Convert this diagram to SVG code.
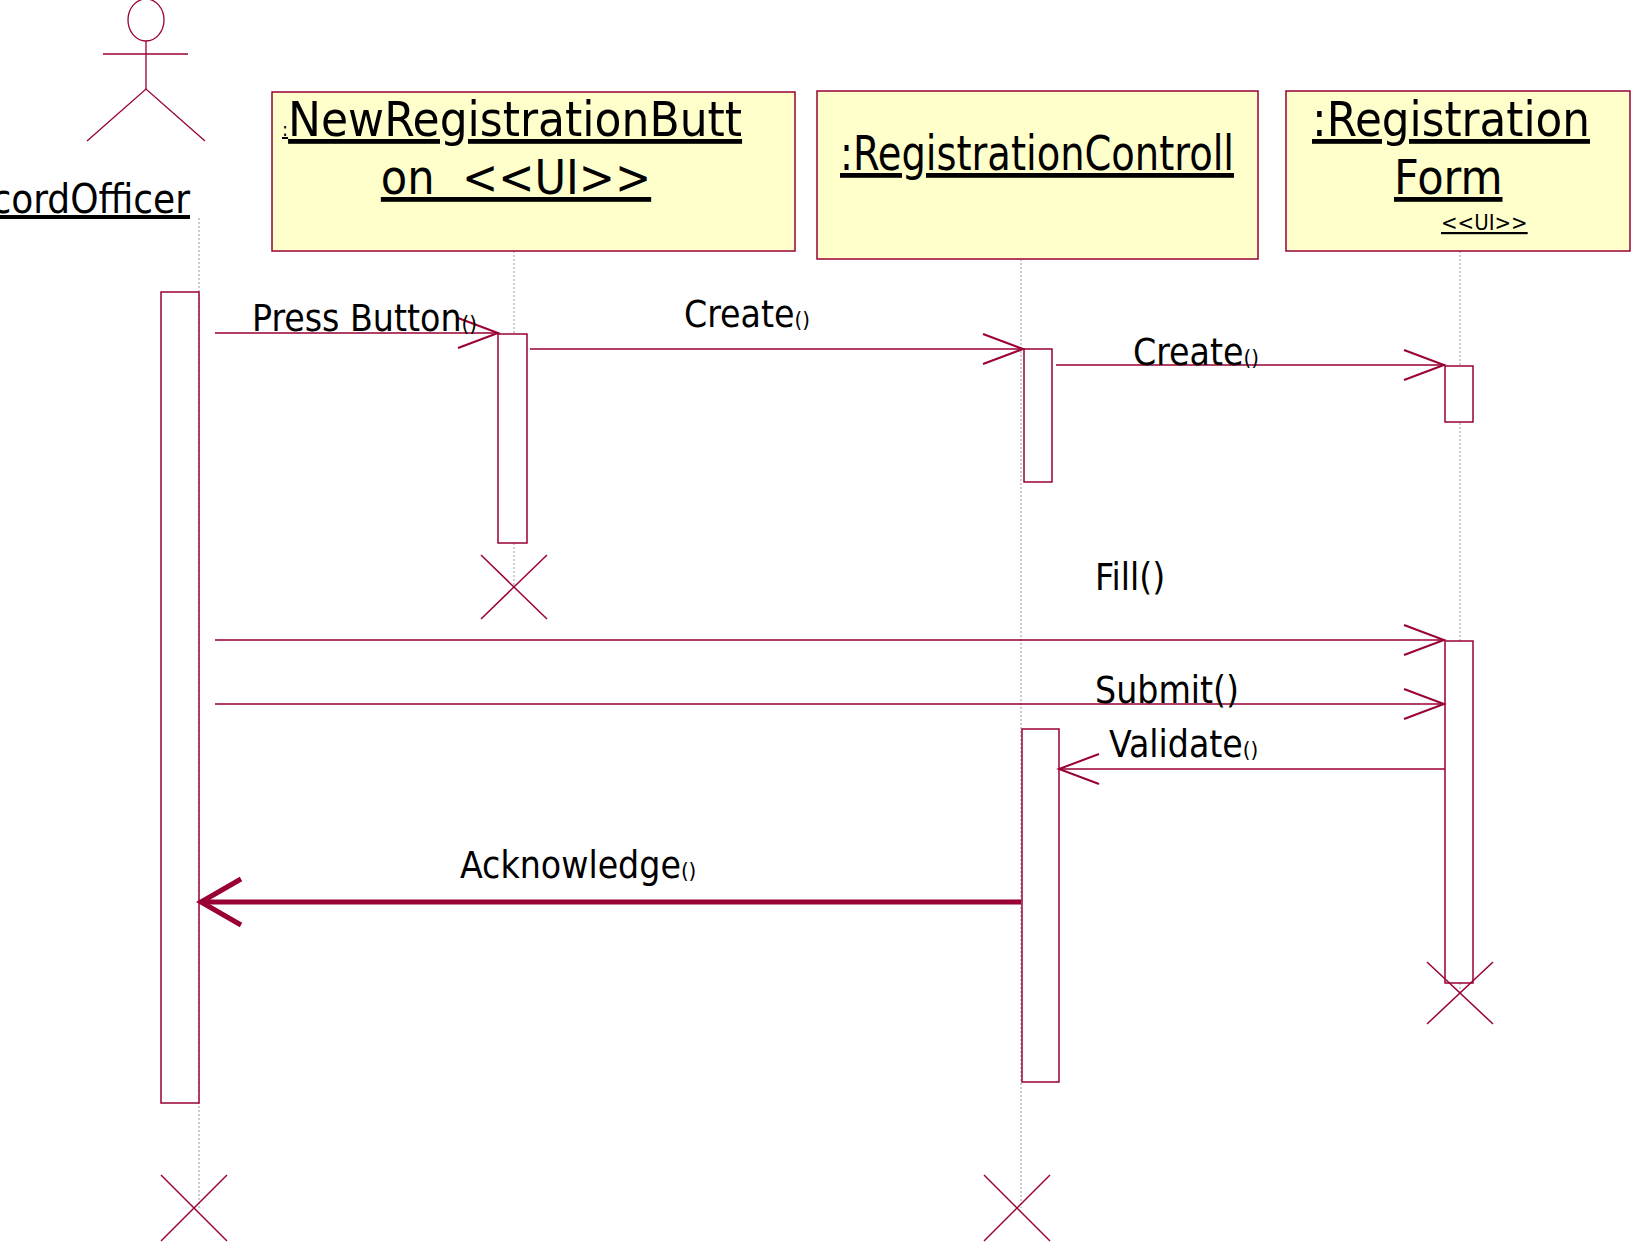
<svg xmlns="http://www.w3.org/2000/svg" width="1644" height="1259" viewBox="0 0 1644 1259">
<style>
text{font-family:"DejaVu Sans Condensed","Liberation Sans Narrow","Liberation Sans",sans-serif;fill:#000}
.box{fill:#ffffcc;stroke:#990033;stroke-width:1.5}
.act{fill:#fff;stroke:#990033;stroke-width:1.5}
.life{stroke:#999;stroke-width:1;stroke-dasharray:2 2}
.ln{stroke:#990033;stroke-width:1.3;fill:none}
.ah{stroke:#990033;stroke-width:2;fill:none}
.x{stroke:#990033;stroke-width:1.5}
.t{font-size:48px;text-decoration:underline}
.m{font-size:37px}
.s{font-size:22px}
</style>
<g id="lifelines">
<line class="life" x1="199" y1="218" x2="199" y2="1208"/>
<line class="life" x1="514" y1="251" x2="514" y2="587"/>
<line class="life" x1="1021" y1="259" x2="1021" y2="1208"/>
<line class="life" x1="1460" y1="251" x2="1460" y2="994"/>
</g>
<g id="actor">
<ellipse cx="146" cy="20" rx="18" ry="21" fill="none" stroke="#990033" stroke-width="1.3"/>
<line class="ln" x1="103" y1="54" x2="188" y2="54"/>
<line class="ln" x1="146" y1="41" x2="146" y2="89"/>
<polyline class="ln" points="87,141 146,89 205,141"/>
<text x="190" y="213" font-size="40" text-anchor="end" text-decoration="underline">cordOfficer</text>
<rect class="act" x="161" y="292" width="38" height="811"/>
<line class="x" x1="161" y1="1175" x2="227" y2="1241"/><line class="x" x1="227" y1="1175" x2="161" y2="1241"/>
</g>
<g id="newRegistrationButton">
<rect class="box" x="272" y="92" width="523" height="159"/>
<text x="282" y="136" class="t"><tspan font-size="20">:</tspan><tspan textLength="454" lengthAdjust="spacingAndGlyphs">NewRegistrationButt</tspan></text>
<text x="516" y="194" class="t" text-anchor="middle" xml:space="preserve">on  &lt;&lt;UI&gt;&gt;</text>
<rect class="act" x="498" y="334" width="29" height="209"/>
<line class="x" x1="481" y1="555" x2="547" y2="619"/><line class="x" x1="547" y1="555" x2="481" y2="619"/>
</g>
<g id="registrationController">
<rect class="box" x="817" y="91" width="441" height="168"/>
<text x="840" y="170" class="t" font-size="44" textLength="394" lengthAdjust="spacingAndGlyphs">:RegistrationControll</text>
<rect class="act" x="1024" y="349" width="28" height="133"/>
<rect class="act" x="1022" y="729" width="37" height="353"/>
<line class="x" x1="984" y1="1175" x2="1050" y2="1241"/><line class="x" x1="1050" y1="1175" x2="984" y2="1241"/>
</g>
<g id="registrationForm">
<rect class="box" x="1286" y="91" width="344" height="160"/>
<text x="1312" y="136" class="t" textLength="278" lengthAdjust="spacingAndGlyphs">:Registration</text>
<text x="1394" y="194" class="t">Form</text>
<text x="1441" y="230" class="s" text-decoration="underline">&lt;&lt;UI&gt;&gt;</text>
<rect class="act" x="1445" y="366" width="28" height="56"/>
<rect class="act" x="1445" y="641" width="28" height="342"/>
<line class="x" x1="1427" y1="962" x2="1493" y2="1024"/><line class="x" x1="1493" y1="962" x2="1427" y2="1024"/>
</g>
<g id="connectors">
<line class="ln" x1="215" y1="333" x2="498" y2="333"/>
<polyline class="ah" points="458,318 498,333 458,348"/>
<text x="252" y="331" class="m">Press Button<tspan class="s">()</tspan></text>
<line class="ln" x1="530" y1="349" x2="1024" y2="349"/>
<polyline class="ah" points="983,334 1023,349 983,364"/>
<text x="684" y="327" class="m">Create<tspan class="s">()</tspan></text>
<line class="ln" x1="1056" y1="365" x2="1445" y2="365"/>
<polyline class="ah" points="1404,350 1444,365 1404,380"/>
<text x="1133" y="365" class="m">Create<tspan class="s">()</tspan></text>
<line class="ln" x1="215" y1="640" x2="1445" y2="640"/>
<polyline class="ah" points="1404,625 1444,640 1404,655"/>
<text x="1095" y="590" class="m">Fill()</text>
<line class="ln" x1="215" y1="704" x2="1445" y2="704"/>
<polyline class="ah" points="1404,689 1444,704 1404,719"/>
<text x="1095" y="703" class="m">Submit()</text>
<line class="ln" x1="1445" y1="769" x2="1059" y2="769"/>
<polyline class="ah" points="1099,754 1059,769 1099,784"/>
<text x="1109" y="757" class="m">Validate<tspan class="s">()</tspan></text>
<line x1="1021" y1="902" x2="202" y2="902" stroke="#990033" stroke-width="5"/>
<polyline points="241,879 201,902 241,925" fill="none" stroke="#990033" stroke-width="5"/>
<text x="460" y="878" class="m">Acknowledge<tspan class="s">()</tspan></text>
</g>
</svg>
